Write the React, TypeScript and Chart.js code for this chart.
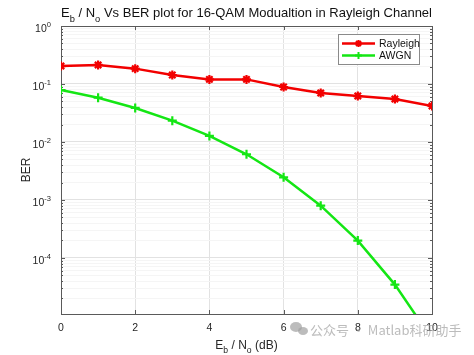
import { useEffect, useRef } from 'react';
import Chart from 'chart.js/auto';

const snrDb = [0, 1, 2, 3, 4, 5, 6, 7, 8, 9, 10];
const rayleighBer = [0.204, 0.213, 0.184, 0.143, 0.12, 0.12, 0.0888, 0.07, 0.062, 0.055, 0.0418];
const awgnBer = [0.0788, 0.058, 0.0386, 0.0233, 0.0127, 0.00614, 0.00246, 0.000797, 0.000199, 0.0000347, 0.000004];
const xTicks = [0, 2, 4, 6, 8, 10];
const yLabelExps = [-4, -3, -2, -1, 0];
const yDecadeExps = [-5, -4, -3, -2, -1];
const seriesNames = ['Rayleigh', 'AWGN'];

const FONT = '"Liberation Sans", Arial, Helvetica, sans-serif';
const AXIS = '#5a5a5a';
const TXT = '#262626';
const RED = '#f20000';
const GREEN = '#14e614';
const Y_MIN = 1.08e-5;
const Y_MAX = 1;

type Part = { t: string; s?: 'sub' | 'sup' };

function drawRich(ctx: CanvasRenderingContext2D, parts: Part[], x: number, y: number, size: number, align: 'left' | 'center' | 'right', color: string) {
  const small = size * 0.72;
  ctx.save();
  ctx.fillStyle = color;
  ctx.textBaseline = 'alphabetic';
  ctx.textAlign = 'left';
  const widths = parts.map((p) => {
    ctx.font = `${p.s ? small : size}px ${FONT}`;
    return ctx.measureText(p.t).width;
  });
  const total = widths.reduce((a, b) => a + b, 0);
  let cx = align === 'left' ? x : align === 'center' ? x - total / 2 : x - total;
  parts.forEach((p, i) => {
    ctx.font = `${p.s ? small : size}px ${FONT}`;
    const dy = p.s === 'sub' ? size * 0.35 : p.s === 'sup' ? -size * 0.45 : 0;
    ctx.fillText(p.t, cx, y + dy);
    cx += widths[i];
  });
  ctx.restore();
}

function drawMarker(ctx: CanvasRenderingContext2D, style: string, x: number, y: number, r: number, color: string) {
  ctx.save();
  ctx.strokeStyle = color;
  ctx.lineWidth = 2;
  ctx.beginPath();
  if (style === 'star' || style === 'cross') {
    ctx.moveTo(x - r, y); ctx.lineTo(x + r, y);
    ctx.moveTo(x, y - r); ctx.lineTo(x, y + r);
  }
  if (style === 'star') {
    const d = r * 0.707;
    ctx.moveTo(x - d, y - d); ctx.lineTo(x + d, y + d);
    ctx.moveTo(x - d, y + d); ctx.lineTo(x + d, y - d);
  }
  ctx.stroke();
  ctx.restore();
}

const matlabPlugin = {
  id: 'matlabLook',
  beforeDatasetsDraw(chart: any) {
    const { ctx, chartArea: a, scales } = chart;
    const xs = scales.x;
    const ys = scales.y;
    ctx.save();
    ctx.strokeStyle = AXIS;
    ctx.lineWidth = 1;
    ctx.strokeRect(Math.round(a.left) + 0.5, Math.round(a.top) + 0.5, Math.round(a.right - a.left), Math.round(a.bottom - a.top));
    ctx.beginPath();
    xTicks.forEach((v) => {
      const px = Math.round(xs.getPixelForValue(v)) + 0.5;
      ctx.moveTo(px, a.bottom); ctx.lineTo(px, a.bottom - 4);
      ctx.moveTo(px, a.top); ctx.lineTo(px, a.top + 4);
    });
    yDecadeExps.concat([0]).forEach((e) => {
      for (let m = 1; m <= 9; m++) {
        const v = m * Math.pow(10, e);
        if (v < Y_MIN || v > Y_MAX) continue;
        const py = Math.round(ys.getPixelForValue(v)) + 0.5;
        const len = m === 1 ? 4 : 2;
        ctx.moveTo(a.left, py); ctx.lineTo(a.left + len, py);
        ctx.moveTo(a.right, py); ctx.lineTo(a.right - len, py);
      }
    });
    ctx.stroke();
    ctx.restore();
  },
  afterDraw(chart: any) {
    const { ctx, chartArea: a, scales } = chart;
    const xs = scales.x;
    const ys = scales.y;
    // x tick labels
    ctx.save();
    ctx.fillStyle = TXT;
    ctx.font = `10.5px ${FONT}`;
    ctx.textAlign = 'center';
    ctx.textBaseline = 'alphabetic';
    xTicks.forEach((v) => ctx.fillText(String(v), xs.getPixelForValue(v), 331));
    ctx.restore();
    // y tick labels
    yLabelExps.forEach((e) => {
      const py = ys.getPixelForValue(Math.pow(10, e));
      drawRich(ctx, [{ t: '10' }, { t: String(e), s: 'sup' }], 51, py + 6, 10.5, 'right', TXT);
    });
    // title
    drawRich(ctx, [
      { t: 'E' }, { t: 'b', s: 'sub' }, { t: ' / N' }, { t: 'o', s: 'sub' },
      { t: ' Vs BER plot for 16-QAM Modualtion in Rayleigh Channel' },
    ], (a.left + a.right) / 2, 17, 13, 'center', '#111');
    // x label
    drawRich(ctx, [{ t: 'E' }, { t: 'b', s: 'sub' }, { t: ' / N' }, { t: 'o', s: 'sub' }, { t: ' (dB)' }],
      (a.left + a.right) / 2, 349, 12, 'center', TXT);
    // y label
    ctx.save();
    ctx.translate(30, (a.top + a.bottom) / 2);
    ctx.rotate(-Math.PI / 2);
    ctx.fillStyle = TXT;
    ctx.font = `12px ${FONT}`;
    ctx.textAlign = 'center';
    ctx.fillText('BER', 0, 0);
    ctx.restore();
    // legend
    ctx.save();
    const lx = 338, ly = 34, lw = 81, lh = 30;
    ctx.fillStyle = '#ffffff';
    ctx.fillRect(lx, ly, lw, lh);
    ctx.strokeStyle = '#8a8a8a';
    ctx.lineWidth = 1;
    ctx.strokeRect(lx + 0.5, ly + 0.5, lw, lh);
    const items = [
      { name: seriesNames[0], color: RED, style: 'star', y: 43.5 },
      { name: seriesNames[1], color: GREEN, style: 'cross', y: 55.5 },
    ];
    items.forEach((it) => {
      ctx.strokeStyle = it.color;
      ctx.lineWidth = 2.5;
      ctx.beginPath();
      ctx.moveTo(342, it.y); ctx.lineTo(375, it.y);
      ctx.stroke();
      drawMarker(ctx, it.style, 358.5, it.y, 3.5, it.color);
      ctx.fillStyle = '#111';
      ctx.font = `10.5px ${FONT}`;
      ctx.textAlign = 'left';
      ctx.textBaseline = 'middle';
      ctx.fillText(it.name, 379, it.y + 0.5);
    });
    ctx.restore();
    // watermark
    ctx.save();
    ctx.fillStyle = 'rgba(160,160,160,0.7)';
    ctx.beginPath();
    ctx.ellipse(296, 327, 6, 5, 0, 0, Math.PI * 2);
    ctx.fill();
    ctx.beginPath();
    ctx.ellipse(303, 331, 5, 4, 0, 0, Math.PI * 2);
    ctx.fill();
    ctx.font = `13px "Noto Sans CJK SC", ${FONT}`;
    ctx.textAlign = 'left';
    ctx.textBaseline = 'middle';
    ctx.fillText('公众号 · Matlab科研助手', 310, 330);
    ctx.restore();
  },
};

export default function App() {
  const ref = useRef<HTMLCanvasElement | null>(null);
  useEffect(() => {
    document.body.style.margin = '0';
    const canvas = ref.current;
    if (!canvas) return;
    const gridColor = (ctx: any) => {
      const v = ctx.tick ? ctx.tick.value : 0;
      const lg = Math.log10(v);
      return Math.abs(lg - Math.round(lg)) < 1e-6 ? '#e2e2e2' : '#f5f5f5';
    };
    const chart = new Chart(canvas, {
      type: 'line',
      data: {
        datasets: [
          {
            label: seriesNames[0],
            data: snrDb.map((x, i) => ({ x, y: rayleighBer[i] })),
            borderColor: RED,
            backgroundColor: RED,
            borderWidth: 2.5,
            pointStyle: 'star',
            pointRadius: 4.5,
            pointBorderWidth: 2.2,
            pointBorderColor: RED,
            tension: 0,
          },
          {
            label: seriesNames[1],
            data: snrDb.map((x, i) => ({ x, y: awgnBer[i] })),
            borderColor: GREEN,
            backgroundColor: GREEN,
            borderWidth: 2.5,
            pointStyle: 'cross',
            pointRadius: 4.5,
            pointBorderWidth: 2.2,
            pointBorderColor: GREEN,
            tension: 0,
          },
        ],
      },
      options: {
        responsive: false,
        animation: false,
        devicePixelRatio: 1,
        layout: { padding: { left: 61, right: 42, top: 26, bottom: 41 } },
        plugins: { legend: { display: false }, tooltip: { enabled: false }, title: { display: false } },
        scales: {
          x: {
            type: 'linear',
            min: 0,
            max: 10,
            afterBuildTicks: (s: any) => { s.ticks = xTicks.map((v) => ({ value: v })); },
            afterFit: (s: any) => { s.height = 0; },
            ticks: { display: false },
            grid: { color: '#e2e2e2', drawTicks: false, lineWidth: 1 },
            border: { display: false },
          },
          y: {
            type: 'logarithmic',
            min: Y_MIN,
            max: Y_MAX,
            afterBuildTicks: (s: any) => {
              const t: any[] = [];
              yDecadeExps.concat([0]).forEach((e) => {
                for (let m = 1; m <= 9; m++) {
                  const v = m * Math.pow(10, e);
                  if (v >= Y_MIN && v <= Y_MAX) t.push({ value: v });
                }
              });
              s.ticks = t;
            },
            afterFit: (s: any) => { s.width = 0; },
            ticks: { display: false },
            grid: { color: gridColor, drawTicks: false, lineWidth: 1 },
            border: { display: false },
          },
        },
      },
      plugins: [matlabPlugin],
    });
    return () => chart.destroy();
  }, []);
  return (
    <div style={{ position: 'absolute', left: 0, top: 0, width: 474, height: 355, background: '#fff' }}>
      <canvas ref={ref} width={474} height={355} style={{ display: 'block' }} />
    </div>
  );
}
